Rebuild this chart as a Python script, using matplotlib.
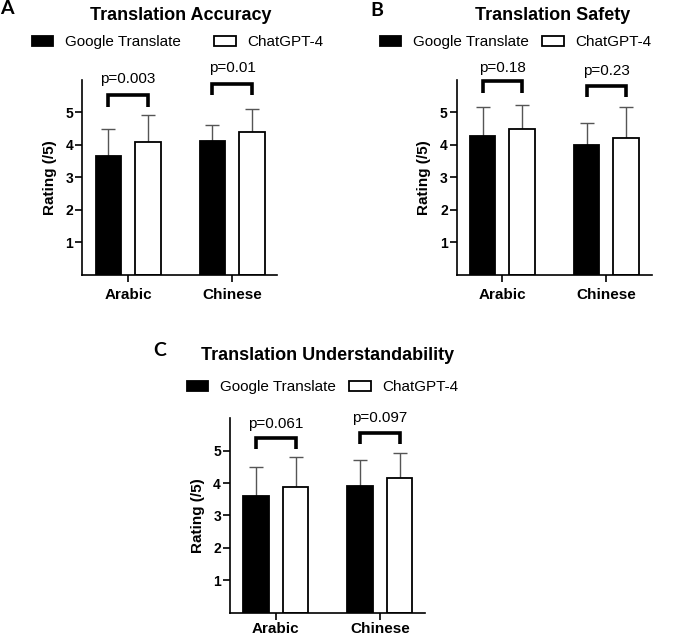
import matplotlib
matplotlib.use("Agg")
import matplotlib.pyplot as plt
import numpy as np

plt.rcParams['font.family'] = ['Liberation Sans', 'DejaVu Sans']

categories = ["Arabic", "Chinese"]
series = ["Google Translate", "ChatGPT-4"]

acc_google = [3.67, 4.13]
acc_google_sd = [0.83, 0.49]
acc_gpt = [4.09, 4.39]
acc_gpt_sd = [0.83, 0.72]
acc_p = ["p=0.003", "p=0.01"]

saf_google = [4.28, 4.00]
saf_google_sd = [0.89, 0.68]
saf_gpt = [4.49, 4.20]
saf_gpt_sd = [0.74, 0.98]
saf_p = ["p=0.18", "p=0.23"]

und_google = [3.59, 3.92]
und_google_sd = [0.90, 0.79]
und_gpt = [3.89, 4.16]
und_gpt_sd = [0.90, 0.77]
und_p = ["p=0.061", "p=0.097"]

W, H = 685, 638
fig = plt.figure(figsize=(W / 100, H / 100), dpi=100)


def px_axes(left, right, bottom, top):
    return fig.add_axes([left / W, 1 - bottom / H, (right - left) / W, (bottom - top) / H])


def panel(ax, g, gsd, c, csd, ptexts, bracket_top, bracket_bot, text_y, xpad=5):
    x = np.arange(len(categories))
    off, bw = 0.19, 0.245
    b1 = ax.bar(x - off, g, bw, color='black', edgecolor='black', linewidth=1.3,
                label=series[0], zorder=2)
    b2 = ax.bar(x + off, c, bw, color='white', edgecolor='black', linewidth=1.3,
                label=series[1], zorder=2)
    ax.errorbar(x - off, g, yerr=[np.zeros(len(g)), gsd], fmt='none', ecolor='#555555',
                elinewidth=1.0, capsize=4.7, capthick=1.0, zorder=1)
    ax.errorbar(x + off, c, yerr=[np.zeros(len(c)), csd], fmt='none', ecolor='#555555',
                elinewidth=1.0, capsize=4.7, capthick=1.0, zorder=1)
    for i in range(len(categories)):
        xl, xr = x[i] - off, x[i] + off
        ax.plot([xl, xl, xr, xr], [bracket_bot[i], bracket_top[i], bracket_top[i], bracket_bot[i]],
                color='black', lw=2.6, solid_joinstyle='miter', solid_capstyle='butt',
                clip_on=False, zorder=3)
        ax.text(x[i], text_y[i], ptexts[i], ha='center', va='center', fontsize=11, clip_on=False)
    ax.set_xlim(-0.44, 1.435)
    ax.set_ylim(0, 6)
    ax.set_yticks([1, 2, 3, 4, 5])
    ax.set_xticks(x)
    ax.set_xticklabels(categories, fontsize=11, fontweight='bold')
    for lab in ax.get_yticklabels():
        lab.set_fontweight('bold')
        lab.set_fontsize(10)
    ax.tick_params(axis='both', direction='out', length=5, width=1.2, pad=1.5)
    ax.tick_params(axis='x', pad=xpad)
    for s in ['top', 'right']:
        ax.spines[s].set_visible(False)
    for s in ['left', 'bottom']:
        ax.spines[s].set_linewidth(1.2)
    ax.set_ylabel("Rating (/5)", fontsize=11, fontweight='bold')
    ax.yaxis.set_label_coords(-0.13, 0.5)
    return b1, b2


def legend(ax, handles, x0, yc, colspace):
    ax.legend(handles=handles, labels=series, ncol=2, loc='center left',
              bbox_to_anchor=(x0 / W, 1 - yc / H), bbox_transform=fig.transFigure,
              frameon=False, fontsize=11, handlelength=1.4, handleheight=0.65,
              handletextpad=0.75, columnspacing=colspace, borderpad=0, borderaxespad=0)


axA = px_axes(82.3, 277.3, 274.6, 80)
hA = panel(axA, acc_google, acc_google_sd, acc_gpt, acc_gpt_sd, acc_p,
           [5.54, 5.88], [5.17, 5.54], [6.03, 6.37])
legend(axA, hA, 32, 42, 2.2)
fig.text(180.5 / W, 1 - 15 / H, "Translation Accuracy", ha='center', va='center',
         fontsize=13, fontweight='bold')
fig.text(0 / W, 1 - 9 / H, "A", ha='left', va='center', fontsize=14, fontweight='bold',
         family=['Lato', 'DejaVu Sans'])

axB = px_axes(456.7, 651.7, 274.6, 80)
hB = panel(axB, saf_google, saf_google_sd, saf_gpt, saf_gpt_sd, saf_p,
           [5.97, 5.82], [5.61, 5.49], [6.38, 6.28])
legend(axB, hB, 380, 42, 0.9)
fig.text(553 / W, 1 - 15 / H, "Translation Safety", ha='center', va='center',
         fontsize=13, fontweight='bold')
fig.text(370 / W, 1 - 11 / H, "B", ha='left', va='center', fontsize=14, fontweight='bold',
         family=['Lato', 'DejaVu Sans'])

axC = px_axes(230, 425, 612.5, 418.3)
hC = panel(axC, und_google, und_google_sd, und_gpt, und_gpt_sd, und_p,
           [5.39, 5.54], [5.05, 5.20], [5.82, 6.02], xpad=2)
legend(axC, hC, 187, 387, 0.9)
fig.text(327.5 / W, 1 - 355 / H, "Translation Understandability", ha='center', va='center',
         fontsize=13, fontweight='bold')
fig.text(153 / W, 1 - 350 / H, "C", ha='left', va='center', fontsize=14, fontweight='bold',
         family=['Lato', 'DejaVu Sans'])

fig.savefig("out.png", dpi=100, facecolor='white')
